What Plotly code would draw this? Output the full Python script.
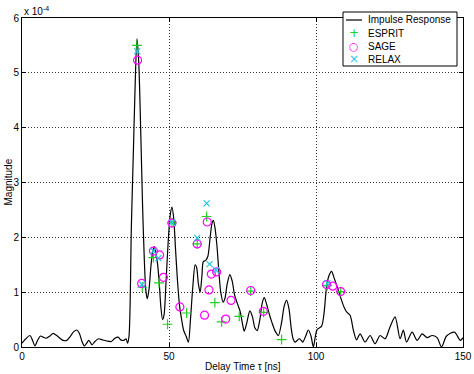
import plotly.graph_objects as go

# Impulse response (delay in ns, magnitude in units of 1e-4)
ir_delay = [0, 1.3, 2.7, 3.6, 4.4, 5.3, 6.3, 7.2, 8.2, 9.5, 10.6, 11.8, 12.9, 14.0, 15.2, 16.5,
            17.6, 18.6, 19.5, 20.4, 21.2, 22.0, 22.7, 23.3, 23.8, 24.8, 26.0, 27.3, 28.8, 30.4,
            31.6, 32.7, 33.6, 34.6, 35.4, 35.9, 36.4, 37.2, 37.9, 38.5, 39.1, 39.7, 40.4, 41.0,
            41.6, 42.1, 42.6, 43.2, 43.9, 44.6, 45.1, 45.6, 46.1, 46.7, 47.2, 47.8, 48.3, 49.0,
            49.7, 50.4, 51.0, 51.6, 52.2, 52.9, 53.6, 54.3, 55.0, 55.8, 56.6, 57.3, 58.1, 58.9,
            59.4, 60.0, 60.6, 61.2, 61.7, 62.5, 63.2, 64.0, 64.6, 65.1, 65.7, 66.3, 67.0, 67.6,
            68.4, 69.0, 69.8, 70.7, 71.5, 72.3, 73.2, 74.2, 75.0, 75.6, 76.5, 77.5, 78.4, 79.2,
            80.0, 80.9, 81.7, 82.4, 83.2, 84.0, 85.0, 86.2, 87.2, 88.3, 89.2, 90.0, 90.8, 91.6,
            92.2, 92.9, 93.6, 94.3, 95.0, 95.5, 96.5, 97.4, 98.3, 99.1, 99.8, 100.4, 101.9, 102.7,
            103.6, 104.4, 105.3, 106.1, 107.0, 107.8, 108.7, 109.6, 110.4, 111.6, 112.7, 113.8,
            115.0, 116.7, 118.4, 120.1, 121.8, 123.5, 125.2, 126.9, 128.6, 129.7, 130.8, 132.7,
            134.4, 136.1, 137.8, 139.5, 141.2, 142.7, 144.4, 147.1, 149.1, 150.0]
ir_mag = [0.07, 0.15, 0.21, 0.12, 0.02, 0.12, 0.20, 0.18, 0.16, 0.20, 0.25, 0.21, 0.16, 0.12, 0.12, 0.20,
          0.28, 0.31, 0.25, 0.10, 0.02, 0.07, 0.12, 0.08, 0.04, 0.10, 0.15, 0.13, 0.11, 0.10,
          0.16, 0.18, 0.13, 0.12, 0.15, 0.07, 0.20, 2.20, 3.60, 4.80, 5.62, 5.20, 3.90, 2.60,
          1.60, 1.05, 0.88, 1.05, 1.50, 1.78, 1.83, 1.68, 1.52, 1.15, 0.75, 0.50, 0.58, 1.20,
          1.90, 2.40, 2.55, 2.35, 1.80, 1.20, 0.75, 0.50, 0.30, 0.20, 0.09, 0.50, 1.10, 1.50,
          1.45, 1.15, 1.00, 1.30, 1.56, 1.58, 1.65, 2.00, 2.25, 2.31, 2.15, 1.85, 1.35, 1.00,
          0.82, 0.88, 1.15, 1.32, 1.20, 0.95, 0.80, 0.65, 0.42, 0.29, 0.45, 0.66, 0.55, 0.35,
          0.30, 0.50, 0.80, 0.90, 0.78, 0.62, 0.45, 0.28, 0.21, 0.45, 0.75, 0.85, 0.70, 0.33,
          0.15, 0.09, 0.12, 0.15, 0.12, 0.09, 0.20, 0.31, 0.20, 0.00, 0.20, 0.32, 0.38, 0.60,
          1.10, 1.30, 1.38, 1.27, 1.13, 1.00, 0.85, 0.72, 0.64, 0.58, 0.31, 0.13,
          0.24, 0.09, 0.21, 0.06, 0.21, 0.15, 0.37, 0.55, 0.15, 0.31, 0.09, 0.27,
          0.12, 0.24, 0.17, 0.21, 0.17, 0.00, 0.20, 0.27, 0.12, 0.17]

esprit_delay = [39.1, 40.9, 44.7, 46.6, 49.5, 51.0, 56.0, 59.6, 62.8, 65.6, 67.9, 73.9, 77.8, 82.2, 88.3, 103.8, 108.4]
esprit_mag = [5.50, 1.09, 1.63, 1.17, 0.415, 2.27, 0.62, 1.88, 2.38, 0.81, 0.46, 0.56, 1.02, 0.63, 0.135, 1.12, 1.01]

sage_delay = [39.3, 40.7, 44.7, 46.8, 48.1, 51.0, 53.7, 59.6, 62.1, 63.0, 63.6, 64.4, 66.2, 69.3, 71.1, 77.8, 82.1, 103.6, 105.7, 108.4]
sage_mag = [5.23, 1.16, 1.75, 1.68, 1.27, 2.26, 0.73, 1.88, 0.58, 2.28, 1.04, 1.33, 1.37, 0.51, 0.85, 1.03, 0.65, 1.14, 1.11, 1.01]

relax_delay = [39.2, 40.8, 44.7, 46.4, 51.0, 59.6, 62.8, 63.8, 66.0, 103.9]
relax_mag = [5.39, 1.14, 1.75, 1.62, 2.27, 1.99, 2.62, 1.51, 1.40, 1.16]

x_ticks = [0, 50, 100, 150]
y_ticks = [0, 1, 2, 3, 4, 5, 6]

legend_labels = ["Impulse Response", "ESPRIT", "SAGE", "RELAX"]

GREEN = "#22d022"
MAGENTA = "#ff00ff"
CYAN = "#20c8e0"
FONT = "Liberation Sans, Arial, Helvetica, sans-serif"

fig = go.Figure()
fig.add_trace(go.Scatter(x=ir_delay, y=ir_mag, mode="lines",
                         line=dict(color="black", width=1.2, shape="spline", smoothing=0.8),
                         name=legend_labels[0], showlegend=False))
fig.add_trace(go.Scatter(x=esprit_delay, y=esprit_mag, mode="markers",
                         marker=dict(symbol="cross-thin", size=7, line=dict(color=GREEN, width=1.2)),
                         name=legend_labels[1], showlegend=False))
fig.add_trace(go.Scatter(x=sage_delay, y=sage_mag, mode="markers",
                         marker=dict(symbol="circle-open", size=8, color=MAGENTA, line=dict(color=MAGENTA, width=1.2)),
                         name=legend_labels[2], showlegend=False))
fig.add_trace(go.Scatter(x=relax_delay, y=relax_mag, mode="markers",
                         marker=dict(symbol="x-thin", size=6, line=dict(color=CYAN, width=1.2)),
                         name=legend_labels[3], showlegend=False))

W, H = 474, 374
L, R, T, B = 22, 11, 18, 27
pw, ph = W - L - R, H - T - B

def px(xp):
    return (xp - L) / pw

def py(yp):
    return (H - B - yp) / ph

axis_common = dict(showline=True, linecolor="black", linewidth=1, mirror="ticks",
                   ticks="inside", ticklen=4, tickcolor="black", zeroline=False,
                   showgrid=True, gridcolor="#333333", gridwidth=1, griddash="1px,2px",
                   automargin=False,
                   tickfont=dict(family=FONT, size=10, color="black"))

fig.update_layout(
    width=W, height=H,
    margin=dict(l=L, r=R, t=T, b=B, pad=0),
    paper_bgcolor="white", plot_bgcolor="white",
    font=dict(family=FONT, size=10, color="black"),
    xaxis=dict(range=[0, 150], tickvals=x_ticks, **axis_common),
    yaxis=dict(range=[0, 6], tickvals=y_ticks, **axis_common),
    showlegend=False,
)

# exponent label and axis titles
fig.add_annotation(xref="paper", yref="paper", x=0, y=py(11), xanchor="left", yanchor="middle",
                   text="x 10<sup>-4</sup>", showarrow=False, font=dict(family=FONT, size=10))
fig.add_annotation(xref="paper", yref="paper", x=0.5, y=py(367), xanchor="center", yanchor="middle",
                   text="Delay Time τ [ns]", showarrow=False, font=dict(family=FONT, size=10))
fig.add_annotation(xref="paper", yref="paper", x=px(8), y=0.5, xanchor="center", yanchor="middle",
                   text="Magnitude", textangle=-90, showarrow=False, font=dict(family=FONT, size=10))

# custom compact legend (MATLAB style)
fig.add_shape(type="rect", xref="paper", yref="paper", x0=px(343), x1=px(457), y0=py(66), y1=py(12),
              line=dict(color="black", width=1), fillcolor="white", layer="above")
rows = [20, 33, 46, 59]
fig.add_shape(type="line", xref="paper", yref="paper", x0=px(346), x1=px(362), y0=py(rows[0]), y1=py(rows[0]),
              line=dict(color="black", width=1.2), layer="above")
sym_text = ["+", "○", "×"]
sym_col = [GREEN, MAGENTA, CYAN]
sym_size = [12, 11, 12]
for i in range(3):
    fig.add_annotation(xref="paper", yref="paper", x=px(354), y=py(rows[i + 1]), xanchor="center", yanchor="middle",
                       text=sym_text[i], showarrow=False,
                       font=dict(family="DejaVu Sans", size=sym_size[i], color=sym_col[i]))
for i, lab in enumerate(legend_labels):
    fig.add_annotation(xref="paper", yref="paper", x=px(366), y=py(rows[i]), xanchor="left", yanchor="middle",
                       text=lab, showarrow=False, font=dict(family=FONT, size=10, color="black"))

fig.write_html("out.html", config={"displayModeBar": False},
               post_script="document.body.style.margin='0';document.body.style.overflow='hidden';")
